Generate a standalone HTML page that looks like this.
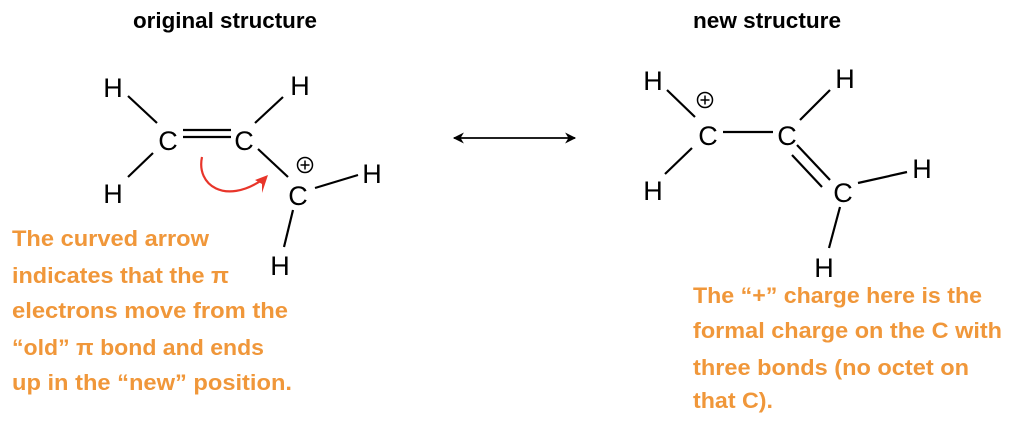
<!DOCTYPE html>
<html><head><meta charset="utf-8"><style>
html,body{margin:0;padding:0;background:#fff;width:1024px;height:432px;overflow:hidden}
</style></head><body>
<svg width="1024" height="432" viewBox="0 0 1024 432" xmlns="http://www.w3.org/2000/svg">
<defs>
<marker id="ah" viewBox="0 0 10 10" refX="9" refY="5" markerWidth="14" markerHeight="11" orient="auto-start-reverse" markerUnits="userSpaceOnUse"><path d="M0,0 L10,5 L0,10 L3,5 Z" fill="#000"/></marker>
</defs>
<g font-family="Liberation Sans, sans-serif" font-weight="bold" fill="#000">
<text x="133" y="28" font-size="22" textLength="184" lengthAdjust="spacingAndGlyphs">original structure</text>
<text x="693" y="28" font-size="22" textLength="148" lengthAdjust="spacingAndGlyphs">new structure</text>
</g>
<!-- left molecule -->
<g stroke="#000" stroke-width="2.2" fill="none" stroke-linecap="butt">
<line x1="128" y1="96" x2="157" y2="123"/>
<line x1="153" y1="153" x2="128" y2="177"/>
<line x1="183" y1="130" x2="231" y2="130"/>
<line x1="183" y1="137" x2="231" y2="137"/>
<line x1="255" y1="123" x2="283" y2="97"/>
<line x1="258" y1="149" x2="288" y2="177"/>
<line x1="315" y1="188" x2="358" y2="175"/>
<line x1="293" y1="210" x2="284" y2="247"/>
<circle cx="305" cy="165" r="7.5" stroke-width="1.5"/>
<line x1="300.5" y1="165" x2="309.5" y2="165" stroke-width="1.5"/>
<line x1="305" y1="160.5" x2="305" y2="169.5" stroke-width="1.5"/>
</g>
<path d="M202,157 C196,185 225,205 262,180" stroke="#e8352a" stroke-width="2.2" fill="none"/>
<path d="M268,175 L255,180 L262,184 L262,193 Z" fill="#e8352a"/>
<g font-family="Liberation Sans, sans-serif" font-size="27" text-anchor="middle" fill="#000">
<text x="113" y="97">H</text>
<text x="168" y="150">C</text>
<text x="244" y="150">C</text>
<text x="300" y="95">H</text>
<text x="298" y="205">C</text>
<text x="372" y="183">H</text>
<text x="280" y="275">H</text>
<text x="113" y="203">H</text>
</g>
<!-- resonance arrow -->
<line x1="454" y1="138" x2="575" y2="138" stroke="#000" stroke-width="1.8" marker-start="url(#ah)" marker-end="url(#ah)"/>
<!-- right molecule -->
<g stroke="#000" stroke-width="2.2" fill="none">
<line x1="667" y1="90" x2="695" y2="117"/>
<line x1="692" y1="148" x2="665" y2="174"/>
<line x1="723" y1="132" x2="773" y2="132"/>
<line x1="800" y1="120" x2="830" y2="90"/>
<line x1="797" y1="145" x2="830" y2="180"/>
<line x1="792" y1="155" x2="822" y2="187"/>
<line x1="858" y1="183" x2="907" y2="172"/>
<line x1="840" y1="207" x2="829" y2="248"/>
<circle cx="705" cy="100" r="7.5" stroke-width="1.5"/>
<line x1="700.5" y1="100" x2="709.5" y2="100" stroke-width="1.5"/>
<line x1="705" y1="95.5" x2="705" y2="104.5" stroke-width="1.5"/>
</g>
<g font-family="Liberation Sans, sans-serif" font-size="27" text-anchor="middle" fill="#000">
<text x="653" y="90">H</text>
<text x="708" y="145">C</text>
<text x="787" y="145">C</text>
<text x="845" y="88">H</text>
<text x="843" y="202">C</text>
<text x="922" y="178">H</text>
<text x="824" y="277">H</text>
<text x="653" y="200">H</text>
</g>
<!-- orange text -->
<g font-family="Liberation Sans, sans-serif" font-weight="bold" font-size="22" fill="#f0973a">
<text x="12" y="246" textLength="197" lengthAdjust="spacingAndGlyphs">The curved arrow</text>
<text x="12" y="283" textLength="217" lengthAdjust="spacingAndGlyphs">indicates that the π</text>
<text x="12" y="318" textLength="276" lengthAdjust="spacingAndGlyphs">electrons move from the</text>
<text x="12" y="355" textLength="252" lengthAdjust="spacingAndGlyphs">“old” π bond and ends</text>
<text x="12" y="390" textLength="280" lengthAdjust="spacingAndGlyphs">up in the “new” position.</text>
<text x="693" y="303" textLength="289" lengthAdjust="spacingAndGlyphs">The “+” charge here is the</text>
<text x="693" y="338" textLength="309" lengthAdjust="spacingAndGlyphs">formal charge on the C with</text>
<text x="693" y="375" textLength="276" lengthAdjust="spacingAndGlyphs">three bonds (no octet on</text>
<text x="693" y="408" textLength="80" lengthAdjust="spacingAndGlyphs">that C).</text>
</g>
</svg>
</body></html>
